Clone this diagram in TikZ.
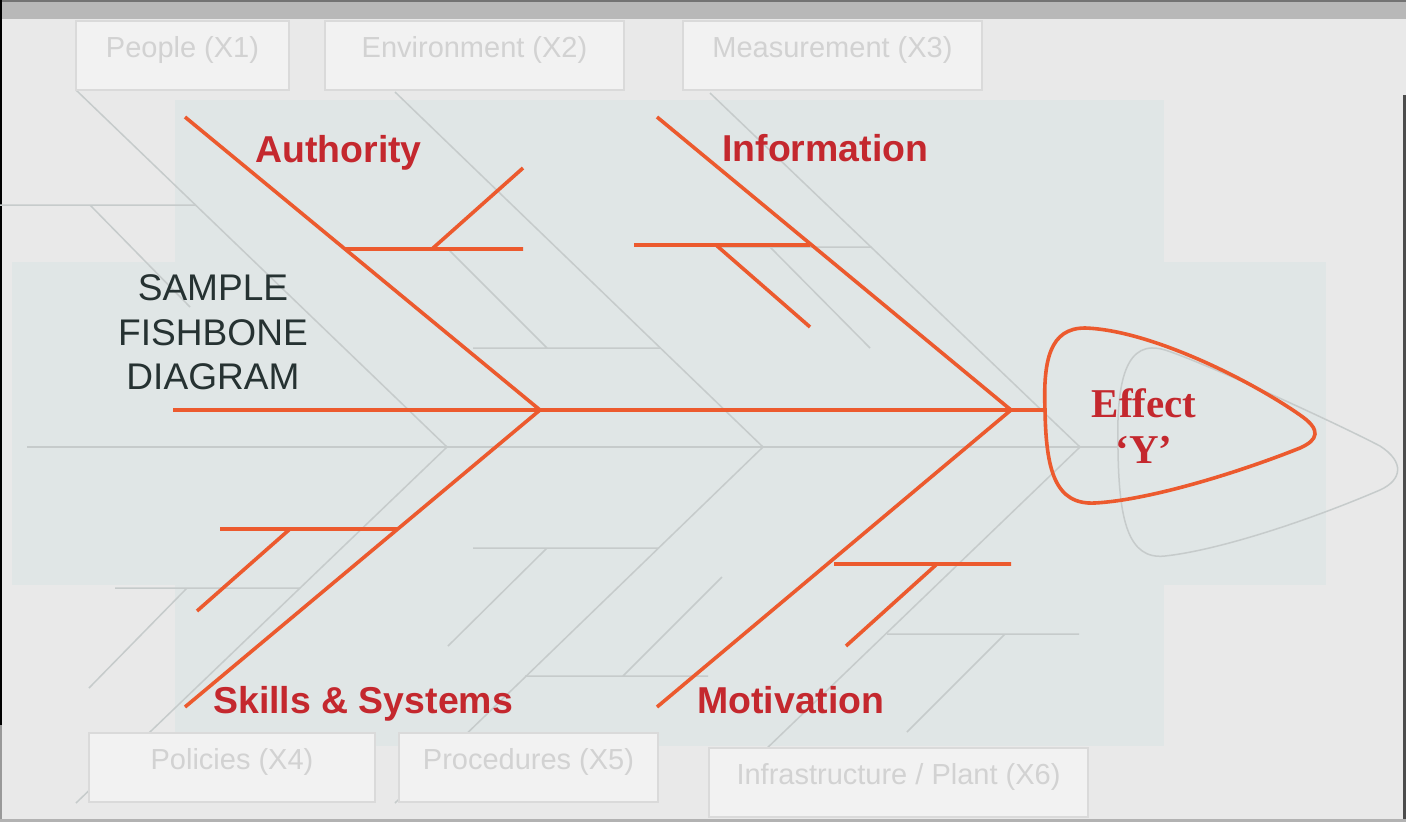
\documentclass[tikz,border=0pt]{standalone}
\usepackage{fontspec}
\setmainfont{Liberation Sans}
\newfontfamily\effectfont{Liberation Serif}
\usepackage{tikz}
\definecolor{page}{HTML}{E9E9E9}
\definecolor{panel}{HTML}{E0E6E6}
\definecolor{bar}{HTML}{B8B8B8}
\definecolor{ghost}{HTML}{C6CBCB}
\definecolor{boxfill}{HTML}{F2F2F2}
\definecolor{boxline}{HTML}{DADADA}
\definecolor{boxtext}{HTML}{D2D2D2}
\definecolor{bone}{HTML}{EC5A2E}
\definecolor{cause}{HTML}{C4282E}
\definecolor{title}{HTML}{263232}
\tikzset{
  ghostBone/.style={draw=ghost, line width=0.3mm},
  boneLine/.style={draw=bone, line width=0.72mm},
  catBox/.style={draw=boxline, fill=boxfill, line width=0.3mm, text=boxtext, inner sep=0pt,
    text height=7.4mm, text depth=6.4mm, anchor=north, font=\fontsize{16.5}{18}\selectfont},
  causeLabel/.style={text=cause, font=\bfseries\fontsize{21.3}{25}\selectfont, inner sep=0pt, anchor=base west},
  titleText/.style={text=title, font=\fontsize{21.1}{25.5}\selectfont, align=center, inner sep=0pt},
  effectText/.style={text=cause, font=\effectfont\bfseries\fontsize{23.3}{26.6}\selectfont, align=center, inner sep=0pt}
}

\begin{document}
\begin{tikzpicture}[x=0.2mm, y=-0.2mm]
  % page and frame
  \fill[page] (0,0) rectangle (1406,822);
  \useasboundingbox (0,0) rectangle (1406,822);
  \fill[bar] (0,0) rectangle (1406,19);
  \fill[black!55] (0,0) rectangle (1406,2);
  \fill[black] (0,0) rectangle (2,725);
  \fill[black!40] (0,725) rectangle (2,822);
  \fill[black!70] (1403,95) rectangle (1406,822);
  \fill[black!30] (0,819) rectangle (1406,822);

  % pale panels
  \fill[panel] (175,100) rectangle (1164,746);
  \fill[panel] (12,262) rectangle (1326,585);

  % faint fishbone behind
  \coordinate (g1) at (447,447);
  \coordinate (g2) at (763,447);
  \coordinate (g3) at (1080,447);
  \draw[ghostBone] (27,447) -- (1118,447);
  \draw[ghostBone] (76,90) -- (g1) -- (76,803);
  \draw[ghostBone] (395,92) -- (g2) -- (395,803);
  \draw[ghostBone] (710,93) -- (g3) -- (710,803);
  \draw[ghostBone] (0,205) -- (195,205) (90,205) -- (190,307);
  \draw[ghostBone] (473,348) -- (660,348) (449,250) -- (547,348);
  \draw[ghostBone] (720,247) -- (871,247) (770,247) -- (870,348);
  \draw[ghostBone] (115,588) -- (300,588) (187,588) -- (89,688);
  \draw[ghostBone] (473,548) -- (659,548) (547,548) -- (448,646);
  \draw[ghostBone] (525,676) -- (708,676) (722,577) -- (623,676);
  \draw[ghostBone] (887,634) -- (1079,634) (1005,634) -- (907,732);
  \draw[ghostBone] (1118,450) .. controls (1116,380) and (1126,338) .. (1165,350)
    .. controls (1200,361) and (1330,420) .. (1380,446)
    .. controls (1405,462) and (1402,480) .. (1380,490)
    .. controls (1310,520) and (1220,550) .. (1165,556)
    .. controls (1128,560) and (1119,520) .. (1118,450) -- cycle;

  % category boxes
  \node[catBox, minimum width=42.6mm] (people) at (182.5,20) {People (X1)};
  \node[catBox, minimum width=59.8mm] (environment) at (474.5,20) {Environment (X2)};
  \node[catBox, minimum width=59.8mm] (measurement) at (832.5,20) {Measurement (X3)};
  \node[catBox, minimum width=57.2mm] (policies) at (232,732) {Policies (X4)};
  \node[catBox, minimum width=51.8mm] (procedures) at (528.5,732) {Procedures (X5)};
  \node[catBox, minimum width=75.8mm] (infrastructure) at (898.5,747) {Infrastructure / Plant (X6)};

  % main fishbone
  \coordinate (tail) at (173,410);
  \coordinate (jointL) at (540,410);
  \coordinate (jointR) at (1011,410);
  \coordinate (head) at (1045,410);
  \coordinate (authTop) at (185,117);
  \coordinate (skillEnd) at (185,707);
  \coordinate (infoTop) at (657,117);
  \coordinate (motivEnd) at (657,707);

  \draw[boneLine] (tail) -- (head);
  \draw[boneLine] (authTop) -- (jointL) -- (skillEnd);
  \draw[boneLine] (infoTop) -- (jointR) -- (motivEnd);
  \draw[boneLine] (345,249) -- (523,249) (432,249) -- (523,168);
  \draw[boneLine] (634,245) -- (810,245) (716,245) -- (810,327);
  \draw[boneLine] (220,529) -- (397,529) (290,529) -- (197,611);
  \draw[boneLine] (834,564) -- (1011,564) (937,564) -- (846,646);

  % effect head
  \draw[boneLine] (head) .. controls (1043,360) and (1050,328) .. (1085,328)
    .. controls (1150,330) and (1250,380) .. (1300,415)
    .. controls (1322,430) and (1318,440) .. (1300,448)
    .. controls (1240,472) and (1150,500) .. (1095,503)
    .. controls (1055,505) and (1046,470) .. (head) -- cycle;

  \node[causeLabel] (authority) at (255,162) {Authority};
  \node[causeLabel] (information) at (722,161) {Information};
  \node[causeLabel] (skills) at (213,713) {Skills \& Systems};
  \node[causeLabel] (motivation) at (697,713) {Motivation};
  \node[titleText, anchor=north] (title) at (213,274) {SAMPLE\\FISHBONE\\DIAGRAM};
  \node[effectText, anchor=north] (effect) at (1144,388) {Effect\\‘Y’};
\end{tikzpicture}
\end{document}
